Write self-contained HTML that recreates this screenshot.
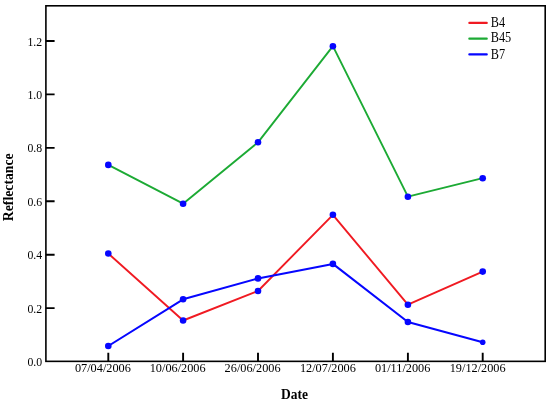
<!DOCTYPE html>
<html><head><meta charset="utf-8">
<style>
html,body{margin:0;padding:0;background:#fff;}
svg{display:block;}
text{font-family:"Liberation Serif",serif;fill:#000;}
.t{font-size:12.3px;}
.ty{font-size:11.8px;}
.b{font-size:13.5px;font-weight:bold;}
.br{font-size:13.75px;font-weight:bold;}
</style></head><body>
<svg width="550" height="403" viewBox="0 0 550 403">
<rect width="550" height="403" fill="#fff"/>
<g fill="none" stroke-linejoin="round" stroke-linecap="round">
<polyline stroke="#1caa34" stroke-width="1.9" points="108.3,164.9 183.1,203.7 258.0,142.3 332.9,46.2 407.9,196.7 482.7,178.2"/>
<polyline stroke="#f01a22" stroke-width="1.9" points="108.3,253.5 183.1,320.5 258.0,291.0 332.9,214.8 407.9,304.7 482.7,271.6"/>
<polyline stroke="#0606ff" stroke-width="2.05" points="108.3,346.0 183.1,299.3 258.0,278.4 332.9,263.9 407.9,322.0 482.7,342.3"/>
</g>
<g fill="#0606ff">
<circle cx="108.3" cy="164.9" r="3.3"/><circle cx="183.1" cy="203.7" r="3.3"/><circle cx="258.0" cy="142.3" r="3.3"/><circle cx="332.9" cy="46.2" r="3.3"/><circle cx="407.9" cy="196.7" r="3.3"/><circle cx="482.7" cy="178.2" r="3.3"/>
<circle cx="108.3" cy="253.5" r="3.3"/><circle cx="183.1" cy="320.5" r="3.3"/><circle cx="258.0" cy="291.0" r="3.3"/><circle cx="332.9" cy="214.8" r="3.3"/><circle cx="407.9" cy="304.7" r="3.3"/><circle cx="482.7" cy="271.6" r="3.3"/>
<circle cx="108.3" cy="346.0" r="3.3"/><circle cx="183.1" cy="299.3" r="3.3"/><circle cx="258.0" cy="278.4" r="3.3"/><circle cx="332.9" cy="263.9" r="3.3"/><circle cx="407.9" cy="322.0" r="3.3"/><circle cx="482.7" cy="342.3" r="2.8"/>
</g>
<rect x="45.9" y="5.8" width="499.3" height="355.55" fill="none" stroke="#000" stroke-width="1.6"/>
<g stroke="#000" stroke-width="1.9">
<path d="M45.9 41.0h8.7M45.9 94.4h8.7M45.9 147.9h8.7M45.9 201.3h8.7M45.9 254.7h8.7M45.9 308.1h8.7"/>
<path d="M108.3 361.3v-8.5M183.1 361.3v-8.5M258.0 361.3v-8.5M332.9 361.3v-8.5M407.9 361.3v-8.5M482.7 361.3v-8.5"/>
</g>
<g>
<text class="ty" text-anchor="end" transform="translate(42.2 45.5) scale(1 1.1)">1.2</text>
<text class="ty" text-anchor="end" transform="translate(42.2 98.9) scale(1 1.1)">1.0</text>
<text class="ty" text-anchor="end" transform="translate(42.2 152.4) scale(1 1.1)">0.8</text>
<text class="ty" text-anchor="end" transform="translate(42.2 205.8) scale(1 1.1)">0.6</text>
<text class="ty" text-anchor="end" transform="translate(42.2 259.2) scale(1 1.1)">0.4</text>
<text class="ty" text-anchor="end" transform="translate(42.2 312.6) scale(1 1.1)">0.2</text>
<text class="ty" text-anchor="end" transform="translate(42.2 366.0) scale(1 1.1)">0.0</text>
</g>
<g>
<text class="t" transform="translate(74.9 372.3) scale(1 1.06)">07/04/2006</text>
<text class="t" transform="translate(149.7 372.3) scale(1 1.06)">10/06/2006</text>
<text class="t" transform="translate(224.6 372.3) scale(1 1.06)">26/06/2006</text>
<text class="t" transform="translate(299.9 372.3) scale(1 1.06)">12/07/2006</text>
<text class="t" transform="translate(374.9 372.3) scale(1 1.06)">01/11/2006</text>
<text class="t" transform="translate(449.7 372.3) scale(1 1.06)">19/12/2006</text>
</g>
<text class="b" transform="translate(281.0 398.5) scale(1 1.1)">Date</text>
<text class="br" transform="translate(13.4 221.2) rotate(-90) scale(1 1.12)">Reflectance</text>
<g stroke-width="2.3" fill="none" stroke-linecap="round">
<path stroke="#f01a22" d="M469.4 22.9h17.3"/>
<path stroke="#1caa34" d="M469.4 38.7h17.3"/>
<path stroke="#0606ff" d="M469.4 54.4h17.3"/>
</g>
<g>
<text class="t" transform="translate(490.7 26.6) scale(1 1.1)">B4</text>
<text class="t" transform="translate(490.7 42.4) scale(1 1.1)">B45</text>
<text class="t" transform="translate(490.7 58.6) scale(1 1.1)">B7</text>
</g>
</svg>
</body></html>
